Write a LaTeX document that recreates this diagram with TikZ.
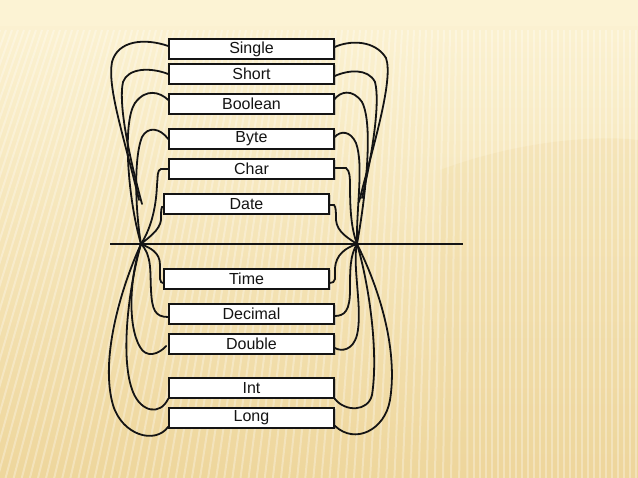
\documentclass[tikz,border=0pt]{standalone}
\usepackage{fontspec}
\setmainfont{Liberation Sans}
\usetikzlibrary{shadows}
\definecolor{bgtop}{HTML}{FCF3D4}
\definecolor{bgmid}{HTML}{F8E8BA}
\definecolor{bgbot}{HTML}{EED69C}
\definecolor{ink}{HTML}{141414}
\begin{document}
\begin{tikzpicture}[x=1pt,y=-1pt,
  typebox/.style={draw=ink, line width=1.6pt, fill=white, minimum width=165pt,
    minimum height=20pt, inner sep=0pt, font=\fontsize{16}{18}\selectfont,
    text=ink, drop shadow={opacity=0.35, shadow xshift=1.5pt, shadow yshift=-1.5pt}},
  conn/.style={draw=ink, line width=1.8pt, line cap=round},
  axis/.style={draw=ink, line width=1.8pt}]
\useasboundingbox (0,0) rectangle (638,478);
% background
\shade[top color=bgtop, middle color=bgmid, bottom color=bgbot] (0,0) rectangle (638,478);
\fill[bgtop] (0,0) rectangle (638,26);
\fill[bgbot, opacity=0.25] (440,478) -- (440,170) .. controls (520,140) and (600,135) .. (638,140) -- (638,478) -- cycle;
\foreach \x in {0,6,...,700} {
  \pgfmathsetmacro{\tilt}{max(0,(470-\x))*0.35}
  \draw[white, opacity=0.3, line width=2pt] (\x,30) -- (\x-\tilt,478);
}
% axis line
\coordinate (hl1) at (110,244);
\coordinate (hl2) at (463,244);
\draw[axis] (hl1) -- (hl2);
\coordinate (L) at (141,244);
\coordinate (R) at (357,244);
\coordinate (LE1) at (139,200);
\coordinate (LE2) at (142,204);
\coordinate (RE1) at (359,202);
\coordinate (RE2) at (362,198);
% boxes
\node[typebox] (single)  at (251.5,49)  {Single};
\node[typebox] (short)   at (251.5,74)  {Short};
\node[typebox] (boolean) at (251.5,104) {Boolean};
\node[typebox] (byte)    at (251.5,139) {Byte};
\node[typebox] (char)    at (251.5,169) {Char};
\node[typebox] (date)    at (246.5,204) {Date};
\node[typebox] (time)    at (246.5,279) {Time};
\node[typebox] (decimal) at (251.5,314) {Decimal};
\node[typebox] (double)  at (251.5,344) {Double};
\node[typebox] (int)     at (251.5,388) {Int};
\node[typebox] (long)    at (251.5,418) {Long};
% top-left connectors
\draw[conn] ([yshift=3pt]single.west) .. controls (145,38) and (118,40) .. (112,62)
  .. controls (107,88) and (125,140) .. (LE1);
\draw[conn] (short.west) .. controls (150,67) and (128,68) .. (123,82)
  .. controls (118,105) and (130,160) .. (LE2);
\draw[conn] ([yshift=4pt]boolean.west) .. controls (160,92) and (146,88) .. (135,103)
  .. controls (122,122) and (128,200) .. (L);
\draw[conn] (byte.west) .. controls (160,128) and (148,126) .. (142,137)
  .. controls (133,160) and (136,215) .. (L);
\draw[conn] (char.west) -- (161,169) .. controls (157,170) and (158,176) .. (157,185)
  .. controls (156,210) and (150,230) .. (L);
\draw[conn] ([yshift=-3pt]date.west) -- (162,207) .. controls (161,209) and (161,214) .. (161,220)
  .. controls (160,230) and (148,238) .. (L);
% top-right connectors
\draw[conn] ([yshift=2pt]single.east) .. controls (350,40) and (375,40) .. (386,58)
  .. controls (394,80) and (372,150) .. (RE1);
\draw[conn] ([yshift=-2pt]short.east) .. controls (348,70) and (368,68) .. (375,82)
  .. controls (381,105) and (370,165) .. (RE2);
\draw[conn] ([yshift=5pt]boolean.east) .. controls (340,92) and (352,88) .. (362,102)
  .. controls (374,125) and (365,200) .. (R);
\draw[conn] ([yshift=2pt]byte.east) .. controls (340,131) and (350,130) .. (356,143)
  .. controls (364,165) and (356,210) .. (R);
\draw[conn] ([yshift=1pt]char.east) -- (346,168) .. controls (350,171) and (350,178) .. (350,185)
  .. controls (350,215) and (352,230) .. (R);
\draw[conn] ([yshift=-1pt]date.east) -- (334,205) .. controls (336,207) and (336,212) .. (336,220)
  .. controls (337,232) and (348,238) .. (R);
% bottom-left connectors
\draw[conn] (L) .. controls (150,248) and (160,252) .. (160,265) -- (160,279)
  .. controls (160,282) and (162,283) .. ([yshift=-4pt]time.west);
\draw[conn] (L) .. controls (152,255) and (150,272) .. (151,290)
  .. controls (152,310) and (155,317) .. ([yshift=-3pt]decimal.west);
\draw[conn] (L) .. controls (130,275) and (127,325) .. (140,347)
  .. controls (146,358) and (158,355) .. ([xshift=-2pt,yshift=-2pt]double.west);
\draw[conn] (L) .. controls (128,290) and (120,360) .. (133,392)
  .. controls (141,412) and (160,416) .. (int.south west);
\draw[conn] (L) .. controls (120,290) and (100,360) .. (113,405)
  .. controls (122,435) and (155,445) .. ([yshift=2pt]long.south west);
% bottom-right connectors
\draw[conn] (R) .. controls (345,248) and (336,255) .. (335,268) -- (335,279)
  .. controls (335,282) and (332,283) .. ([yshift=-4pt]time.east);
\draw[conn] (R) .. controls (350,255) and (350,270) .. (350,290)
  .. controls (350,310) and (345,316) .. ([yshift=-2pt]decimal.east);
\draw[conn] (R) .. controls (352,265) and (363,310) .. (357,335)
  .. controls (353,350) and (342,352) .. ([yshift=-4pt]double.east);
\draw[conn] (R) .. controls (368,280) and (379,350) .. (372,395)
  .. controls (368,412) and (345,412) .. (int.south east);
\draw[conn] (R) .. controls (380,290) and (398,350) .. (390,400)
  .. controls (385,430) and (355,445) .. ([yshift=3pt]long.south east);
\end{tikzpicture}
\end{document}
